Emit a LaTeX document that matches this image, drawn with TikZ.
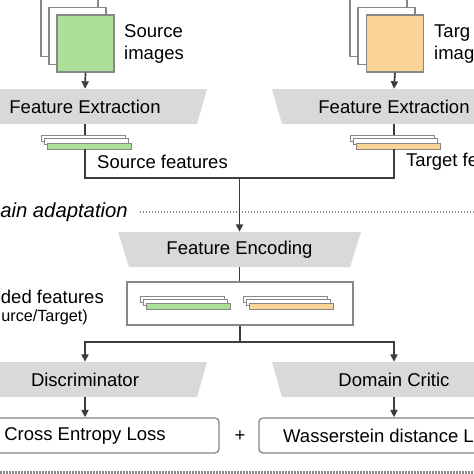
\documentclass[tikz,border=0pt]{standalone}
\usepackage{fontspec}
\setmainfont{Liberation Sans}
\usetikzlibrary{arrows.meta}
\definecolor{trapgray}{RGB}{217,217,217}
\definecolor{srcgreen}{RGB}{172,224,152}
\definecolor{tgtorange}{RGB}{250,212,150}
\definecolor{edgegray}{RGB}{135,135,135}
\definecolor{linedark}{RGB}{60,60,60}
\newcommand\mytrap[2]{\fill[trapgray] ({#1-122},#2) -- ({#1+122},#2) -- ({#1+112},{#2+35}) -- ({#1-112},{#2+35}) -- cycle;}
\begin{document}
\begin{tikzpicture}[x=1pt,y=-1pt,
  txt/.style={inner sep=0pt, font=\fontsize{18.5}{22}\selectfont, text=black},
  traplbl/.style={txt, minimum height=35pt, minimum width=200pt},
  img/.style={draw=edgegray, line width=1.1pt, fill=white, minimum width=57pt, minimum height=57pt, inner sep=0pt},
  bar/.style={draw=edgegray, line width=0.9pt, fill=white, minimum width=84pt, minimum height=6pt, inner sep=0pt},
  conn/.style={draw=linedark, line width=1.7pt},
  arr/.style={conn, -{Triangle[length=7.5pt,width=7pt]}},
  lossbox/.style={draw=edgegray, line width=1.3pt, rounded corners=4pt, minimum height=35pt, inner sep=0pt}
]
\useasboundingbox (0,0) rectangle (474,474);
\fill[white] (0,0) rectangle (474,474);

% source images
\node[img] (s1) at (69.5,28) {};
\node[img] (s2) at (77.5,36) {};
\node[img, fill=srcgreen] (s3) at (85.5,43.5) {};
\node[txt, anchor=west, align=left] (slab) at (124,44) {Source\\images};
% target images
\node[img] (t1) at (378.5,28) {};
\node[img] (t2) at (386.5,36) {};
\node[img, fill=tgtorange] (t3) at (395,43.5) {};
\node[txt, anchor=west, align=left] (tlab) at (434,44) {Targ\\imag};

% feature extraction
\mytrap{85}{89}
\node[traplbl] (fe1) at (85,106.5) {Feature Extraction};
\mytrap{394}{89}
\node[traplbl] (fe2) at (394,106.5) {Feature Extraction};
\draw[arr] (s3.south) -- (fe1.north);
\draw[arr] (t3.south) -- (fe2.north);

% source / target features
\node[bar] (sb1) at (83,138) {};
\node[bar] (sb2) at (86,141) {};
\node[bar, fill=srcgreen] (sb3) at (89,146) {};
\node[bar] (tb1) at (392,138) {};
\node[bar] (tb2) at (395,141) {};
\node[bar, fill=tgtorange] (tb3) at (398,146) {};
\draw[conn] (fe1.south) -- (fe1.south |- sb1.north);
\draw[conn] (fe2.south) -- (fe2.south |- tb1.north);
\node[txt, anchor=west] (sflab) at (97,162) {Source features};
\node[txt, anchor=west] (tflab) at (406,162) {Target fe};

\coordinate (junc) at (239.5,178);
\draw[conn] (fe1.south |- sb3.south) |- (junc);
\draw[conn] (fe2.south |- tb3.south) |- (junc);

% domain adaptation
\node[txt, anchor=east, font=\fontsize{20.3}{24}\selectfont\itshape] (dalab) at (128,212) {ain adaptation};
\coordinate (dot1) at (140,212);
\coordinate (dot2) at (474,212);
\draw[edgegray, line width=1.3pt, dash pattern=on 1.3pt off 1.7pt] (dot1) -- (dot2);

% feature encoding
\fill[trapgray] (118,232) -- (361,232) -- (350,267) -- (129,267) -- cycle;
\node[traplbl] (enc) at (239.5,249.5) {Feature Encoding};
\draw[arr] (junc) -- (enc.north);

% encoded features box
\node[draw=edgegray, line width=1.3pt, minimum width=226pt, minimum height=43pt, inner sep=0pt] (encbox) at (240,303.5) {};
\draw[conn] (enc.south) -- (enc.south |- encbox.north);
\node[bar] (eb1) at (182,299) {};
\node[bar] (eb2) at (185,302) {};
\node[bar, fill=srcgreen] (eb3) at (188,306) {};
\node[bar] (ec1) at (285.5,299) {};
\node[bar] (ec2) at (288.5,302) {};
\node[bar, fill=tgtorange] (ec3) at (291.5,306) {};
\node[txt, anchor=east] (eflab) at (104,297) {ded features};
\node[txt, anchor=east, font=\fontsize{16.2}{19}\selectfont] (eflab2) at (88,317) {urce/Target)};

% discriminator / critic
\mytrap{85}{362}
\node[traplbl] (disc) at (85,379.5) {Discriminator};
\mytrap{394}{362}
\node[traplbl] (crit) at (394,379.5) {Domain Critic};
\coordinate (split) at (240,342);
\draw[arr] (encbox.south) -- (split) -| (disc.north);
\draw[arr] (split) -| (crit.north);

% losses
\node[lossbox, minimum width=268pt] (ce) at (85,435.5) {};
\node[txt] (celab) at (85,436) {Cross Entropy Loss};
\node[lossbox, minimum width=270pt] (wl) at (394,435.5) {};
\node[txt, anchor=west] (wllab) at (283,436) {Wasserstein distance L};
\node[txt] (plus) at (240,436) {+};
\draw[arr] (disc.south) -- (ce.north);
\draw[arr] (crit.south) -- (wl.north);

% bottom dotted line
\coordinate (bd1) at (0,472);
\coordinate (bd2) at (474,472);
\draw[edgegray, line width=3pt, dash pattern=on 1.5pt off 1.5pt] (bd1) -- (bd2);
\end{tikzpicture}
\end{document}
